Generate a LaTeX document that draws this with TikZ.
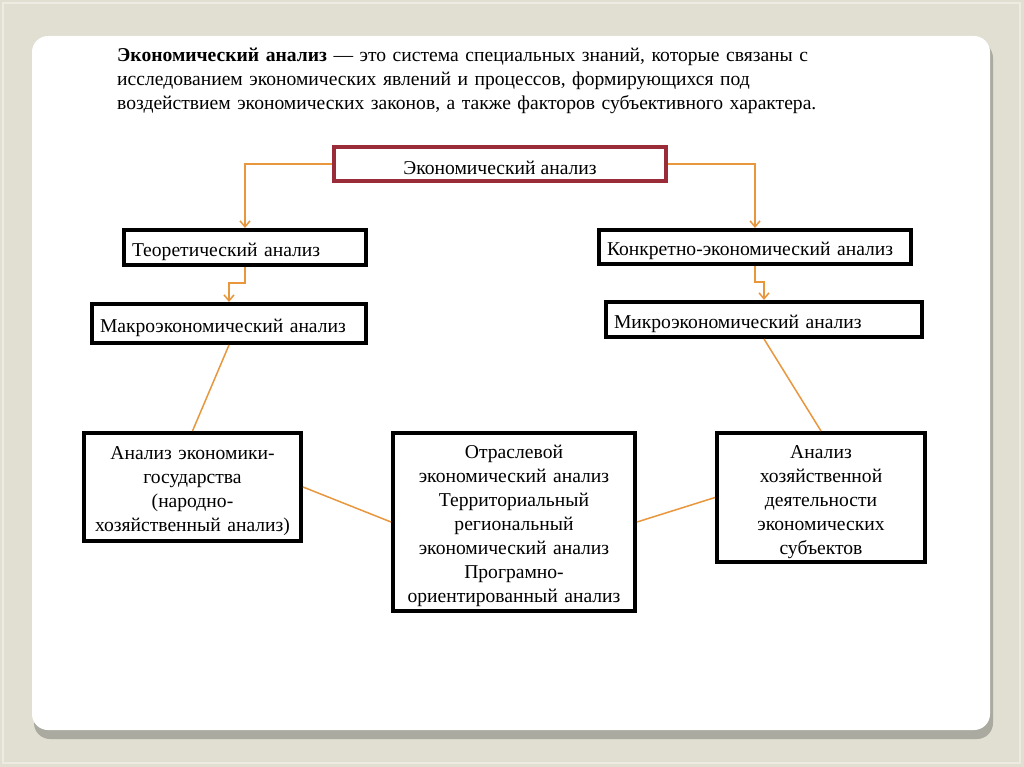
\documentclass[tikz,border=0pt]{standalone}
\usepackage{fontspec}
\setmainfont{Liberation Serif}
\usetikzlibrary{arrows.meta}

\definecolor{slidebg}{HTML}{E1DED2}
\definecolor{slideedge}{HTML}{EEEBE3}
\definecolor{shadowgray}{HTML}{ABAAA0}
\definecolor{framered}{HTML}{9A2B38}
\definecolor{linkorange}{HTML}{E8973C}

\begin{document}
\begin{tikzpicture}[x=1pt,y=-1pt,font=\fontsize{19.6}{24}\selectfont]

\tikzset{%
  box/.style    = {draw, line width=4pt, inner xsep=8pt, inner ysep=0pt, align=left,
                   execute at begin node={\rule{0pt}{22pt}}},
  bigbox/.style = {draw, line width=4pt, inner sep=0pt, align=center,
                   execute at begin node={\rule{0pt}{22pt}}},
  link/.style   = {linkorange, line width=1.5pt},
  arrow/.style  = {link, -{Straight Barb[length=6pt,width=10pt]}},
}

% Slide
\fill[slidebg] (0,0) rectangle (1024,767);
\draw[slideedge, line width=1.5pt] (3,3) rectangle (1020,763);
\fill[shadowgray, rounded corners=16pt] (34,42) rectangle (993,739);
\fill[white, rounded corners=16pt] (32,36) rectangle (990,730);

% Definition
\node[anchor=base west, inner sep=0pt, text width=760pt, align=left] (def) at (117,62)
  {\textbf{Экономический анализ} — это система специальных знаний, которые связаны с\\
   исследованием экономических явлений и процессов, формирующихся под\\
   воздействием экономических законов, а также факторов субъективного характера.};

% Boxes
\node[bigbox, draw=framered, minimum width=332pt, minimum height=34pt] (econ) at (500,164)
  {Экономический анализ};
\node[box, text width=226pt, minimum height=35pt] (theor) at (245,247.5) {Теоретический анализ};
\node[box, text width=296pt, minimum height=34pt] (konk)  at (755,247)   {Конкретно-экономический анализ};
\node[box, text width=258pt, minimum height=39pt] (makro) at (229,323.5) {Макроэкономический анализ};
\node[box, text width=300pt, minimum height=35pt] (mikro) at (764,319.5) {Микроэкономический анализ};

\node[bigbox, text width=217pt, minimum height=108pt] (gos) at (192.5,487)
  {Анализ экономики-\\государства\\(народно-\\хозяйственный анализ)};
\node[bigbox, text width=242pt, minimum height=178pt] (otr) at (514,522)
  {Отраслевой\\экономический анализ\\Территориальный\\региональный\\экономический анализ\\Програмно-\\ориентированный анализ};
\node[bigbox, text width=208pt, minimum height=129pt] (hoz) at (821,497.5)
  {Анализ\\хозяйственной\\деятельности\\экономических\\субъектов};

% Connectors
\draw[arrow] (econ.west) -| (theor.north);
\draw[arrow] (econ.east) -| (konk.north);
\draw[arrow] (theor.south) -- ++(0,16) -| (makro.north);
\draw[arrow] (konk.south) -- ++(0,16) -| (mikro.north);
\draw[link]  (makro.south) -- (gos.north);
\draw[link]  (mikro.south) -- (hoz.north);
\draw[link]  (gos.east) -- (otr.west);
\draw[link]  (otr.east) -- (hoz.west);

\end{tikzpicture}
\end{document}
